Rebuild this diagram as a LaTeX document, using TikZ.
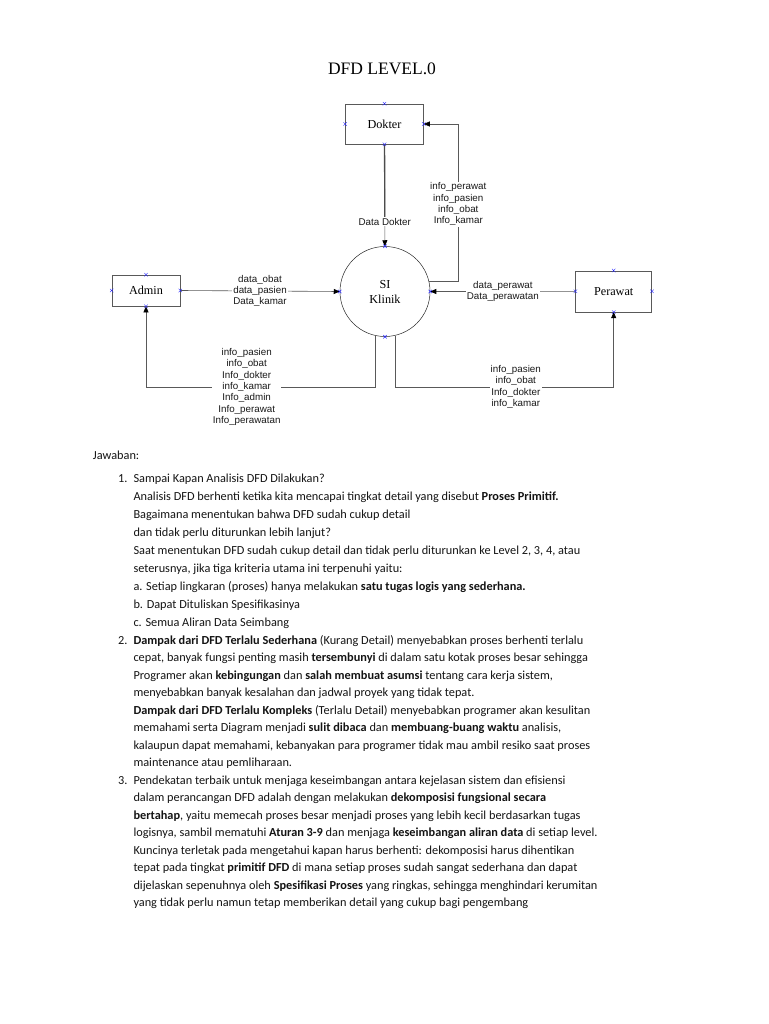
\documentclass[tikz,border=0pt]{standalone}
\usepackage{fontspec}
\setmainfont{Carlito}
\newfontfamily\dfdserif{Liberation Serif}
\newfontfamily\dfdsans{Liberation Sans}
\usetikzlibrary{arrows.meta,positioning,shapes.misc}

\newcommand{\jwbA}{\fontsize{12.3}{18.05}\selectfont}
\newcommand{\jwbB}{\fontsize{12.3}{17.53}\selectfont}

\begin{document}
\begin{tikzpicture}[x=1pt, y=-1pt,
    ent/.style={draw=black!65, line width=0.6pt,
                font=\dfdserif\fontsize{12.2}{14}\selectfont},
    proc/.style={draw=black!85, circle, line width=0.5pt,
                 minimum size=90pt, align=center,
                 font=\dfdserif\fontsize{12.2}{15}\selectfont},
    flow/.style={-{Triangle[length=6pt,width=5pt,black]}, black!65, line width=0.6pt},
    lbl/.style={fill=white, inner sep=1pt, align=center, text=black!90,
                font=\dfdsans\fontsize{9.8}{11.3}\selectfont},
    cpt/.style={cross out, draw=blue!85, minimum size=3pt,
                inner sep=0pt, line width=0.4pt},
    % base = baseline of the last line
    jwb/.style={anchor=base west, inner sep=0pt, align=left, text=black!92}
  ]
  \useasboundingbox (0,0) rectangle (768,1024);

  %% --- DFD level 0 ---
  \node[font=\dfdserif\fontsize{17.5}{20}\selectfont] (judul) at (382,69) {DFD LEVEL.0};
  % entitas dan proses
  \node[ent, minimum width=78pt, minimum height=40pt] (dok) at (384.5,124) {Dokter};
  \node[ent, minimum width=68pt, minimum height=31pt] (adm) at (146,290.5) {Admin};
  \node[ent, minimum width=76pt, minimum height=41pt] (per) at (613.7,291.3) {Perawat};
  \node[proc] (kln) at (385,291.5) {SI\\Klinik};
  % titik belok
  \coordinate (ur) at (458.3,124);
  \coordinate (bl) at (146,387);
  \coordinate (br) at (613.7,387);

  % aliran data
  \draw[flow] (dok) -- node[lbl, pos=0.76] (ddl) {Data Dokter} (kln);
  \draw[black!70, line width=1.3pt] (dok) -- (ddl);
  \draw[flow] (adm.east) -- node[lbl] (lbla) {data\_obat\\data\_pasien\\Data\_kamar} (kln.west);
  \draw[flow] (per.west) -- node[lbl] (lblp) {data\_perawat\\Data\_perawatan} (kln.east);
  \draw[flow] (kln.13) -| node[lbl, pos=0.745] (lbld)
        {info\_perawat\\info\_pasien\\info\_obat\\Info\_kamar} (ur) -- (dok.east);
  \draw[flow] (kln.257) |- node[lbl, pos=0.78] (lblb)
        {info\_pasien\\info\_obat\\Info\_dokter\\info\_kamar\\Info\_admin\\Info\_perawat\\Info\_perawatan} (bl) -- (adm.south);
  \draw[flow] (kln.283) |- node[lbl, pos=0.776] (lblc)
        {info\_pasien\\info\_obat\\Info\_dokter\\info\_kamar} (br) -- (per.south);

  % titik sambung
  \foreach \n in {dok,adm,per,kln}
    \foreach \a in {north,south,east,west}
      \node[cpt] at (\n.\a) {};

  %% --- Jawaban ---
  \node[jwb, font=\jwbA] (jwb) at (92.7,459) {Jawaban:};
  \node[jwb, font=\jwbA] (no1) at (118,482.5) {1.};
  \node[jwb, font=\jwbA] (txt1) at (133.3,626.9) {Sampai Kapan Analisis DFD Dilakukan?\\
    Analisis DFD berhenti ketika kita mencapai tingkat detail yang disebut \textbf{Proses Primitif.}\\
    Bagaimana menentukan bahwa DFD sudah cukup detail\\
    dan tidak perlu diturunkan lebih lanjut?\\
    Saat menentukan DFD sudah cukup detail dan tidak perlu diturunkan ke Level 2, 3, 4, atau\\
    seterusnya, jika tiga kriteria utama ini terpenuhi yaitu:\\
    a. Setiap lingkaran (proses) hanya melakukan \textbf{satu tugas logis yang sederhana.}\\
    b. Dapat Dituliskan Spesifikasinya\\
    c. Semua Aliran Data Seimbang};
  \node[jwb, font=\jwbB] (no2) at (118,644.2) {2.};
  \node[jwb, font=\jwbB] (txt2) at (133.3,766.9) {\textbf{Dampak dari DFD Terlalu Sederhana} (Kurang Detail) menyebabkan proses berhenti terlalu\\
    cepat, banyak fungsi penting masih \textbf{tersembunyi} di dalam satu kotak proses besar sehingga\\
    Programer akan \textbf{kebingungan} dan \textbf{salah membuat asumsi} tentang cara kerja sistem,\\
    menyebabkan banyak kesalahan dan jadwal proyek yang tidak tepat.\\
    \textbf{Dampak dari DFD Terlalu Kompleks} (Terlalu Detail) menyebabkan programer akan kesulitan\\
    memahami serta Diagram menjadi \textbf{sulit dibaca} dan \textbf{membuang-buang waktu} analisis,\\
    kalaupun dapat memahami, kebanyakan para programer tidak mau ambil resiko saat proses\\
    maintenance atau pemliharaan.};
  \node[jwb, font=\jwbB] (no3) at (118,784.2) {3.};
  \node[jwb, font=\jwbB] (txt3) at (133.3,906.9) {Pendekatan terbaik untuk menjaga keseimbangan antara kejelasan sistem dan efisiensi\\
    dalam perancangan DFD adalah dengan melakukan \textbf{dekomposisi fungsional secara}\\
    \textbf{bertahap}, yaitu memecah proses besar menjadi proses yang lebih kecil berdasarkan tugas\\
    logisnya, sambil mematuhi \textbf{Aturan 3-9} dan menjaga \textbf{keseimbangan aliran data} di setiap level.\\
    Kuncinya terletak pada mengetahui kapan harus berhenti: dekomposisi harus dihentikan\\
    tepat pada tingkat \textbf{primitif DFD} di mana setiap proses sudah sangat sederhana dan dapat\\
    dijelaskan sepenuhnya oleh \textbf{Spesifikasi Proses} yang ringkas, sehingga menghindari kerumitan\\
    yang tidak perlu namun tetap memberikan detail yang cukup bagi pengembang};
\end{tikzpicture}
\end{document}
